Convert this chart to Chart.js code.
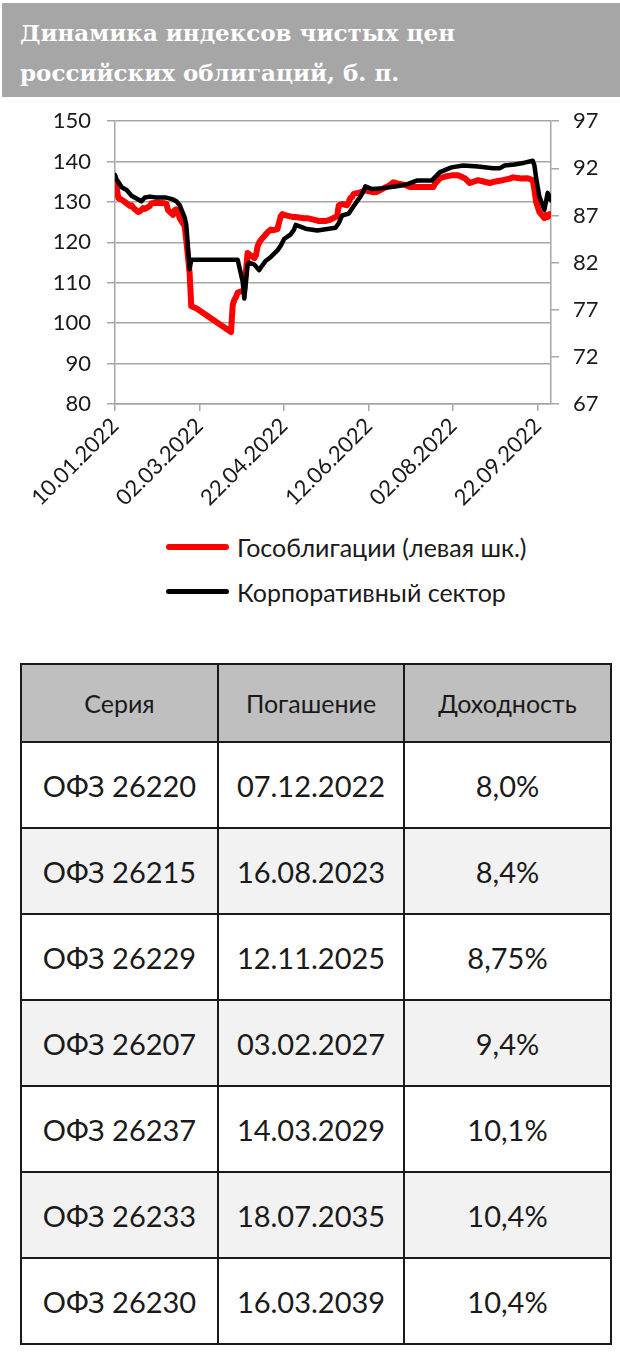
<!DOCTYPE html>
<html lang="ru">
<head>
<meta charset="utf-8">
<script src="https://cdn.jsdelivr.net/npm/chart.js@4.4.1/dist/chart.umd.min.js"></script>
<style>
  html, body { margin: 0; padding: 0; background: #fff; }
  body { width: 620px; height: 1368px; position: relative; overflow: hidden; font-family: Lato, 'Noto Sans', sans-serif; color: #1a1a1a; }
  .title { position: absolute; left: 2px; top: 3px; width: 618px; height: 94px; box-sizing: border-box; padding: 10px 0 0 18px;
           background: #a6a6a6; color: #fff; font: bold 23px/40px 'DejaVu Serif', serif; }
  .chart-box { position: absolute; left: 0; top: 92px; width: 620px; height: 426px; }
  .legend { position: absolute; left: 166px; top: 524px; font-size: 25px; }
  .legend div { display: flex; align-items: center; height: 45px; }
  .legend span.mark { display: inline-block; width: 63px; margin-right: 8px; border-radius: 3px; }
  table { position: absolute; left: 20px; top: 663px; width: 590px; border-collapse: collapse; table-layout: fixed; }
  td, th { border: 2px solid #1a1a1a; text-align: center; vertical-align: middle; padding: 0; }
  th { height: 76px; background: #bfbfbf; font-weight: normal; font-size: 25px; }
  td { height: 84px; font-size: 29px; }
  tr.alt td { background: #f2f2f2; }
</style>
</head>
<body>
<div class="title">Динамика индексов чистых цен<br>российских облигаций, б. п.</div>
<div class="chart-box"><canvas id="chart"></canvas></div>
<div class="legend">
  <div><span class="mark" style="height:6px;background:#ff0000"></span>Гособлигации (левая шк.)</div>
  <div><span class="mark" style="height:5px;background:#000"></span>Корпоративный сектор</div>
</div>
<table id="bonds">
  <colgroup><col style="width:197px"><col style="width:186px"><col style="width:207px"></colgroup>
  <thead><tr></tr></thead>
  <tbody></tbody>
</table>
<script>
// Гособлигации (левая шкала)
const govDates = [
  '10.01', '11.01', '12.01', '14.01', '17.01', '19.01', '20.01', '21.01', '24.01', '25.01',
  '27.01', '28.01', '31.01', '01.02', '04.02', '09.02', '10.02', '11.02', '14.02', '15.02',
  '16.02', '17.02', '18.02', '21.02', '22.02', '24.02', '25.02', '28.02', '21.03', '22.03',
  '23.03', '24.03', '25.03', '28.03', '29.03', '30.03', '31.03', '01.04', '04.04', '05.04',
  '06.04', '07.04', '08.04', '11.04', '12.04', '14.04', '15.04', '18.04', '19.04', '20.04',
  '21.04', '22.04', '25.04', '27.04', '29.04', '04.05', '06.05', '11.05', '13.05', '17.05',
  '19.05', '23.05', '24.05', '25.05', '27.05', '30.05', '31.05', '01.06', '02.06', '03.06',
  '07.06', '10.06', '15.06', '17.06', '21.06', '24.06', '27.06', '29.06', '04.07', '07.07',
  '13.07', '21.07', '22.07', '25.07', '28.07', '01.08', '05.08', '09.08', '12.08', '17.08',
  '19.08', '24.08', '26.08', '29.08', '01.09', '05.09', '07.09', '12.09', '16.09', '19.09',
  '20.09', '21.09', '22.09', '23.09', '26.09', '27.09', '28.09', '29.09', '30.09'
]
const govValues = [
  135.4, 133.5, 131.0, 130.6, 129.7, 129.0, 129.2, 128.6, 127.5, 127.7,
  128.5, 128.3, 129.0, 129.7, 129.8, 129.7, 129.5, 128.0, 126.8, 128.0,
  128.2, 127.5, 126.0, 124.0, 120.5, 112.5, 104.2, 103.7, 97.8, 104.5,
  105.8, 106.5, 107.6, 108.0, 108.3, 113.0, 117.4, 117.0, 116.1, 116.8,
  119.0, 120.0, 120.6, 122.0, 122.5, 123.2, 123.0, 123.3, 125.0, 126.5,
  127.0, 126.8, 126.5, 126.3, 126.3, 126.0, 126.0, 125.5, 125.3, 125.3,
  125.5, 126.3, 126.5, 129.2, 129.5, 129.2, 130.0, 131.0, 131.2, 132.0,
  132.4, 132.9, 132.4, 132.5, 133.4, 134.0, 134.9, 134.6, 134.2, 133.7,
  133.7, 133.7, 134.5, 135.9, 136.3, 136.6, 136.6, 135.9, 134.7, 135.4,
  135.2, 134.7, 134.9, 135.2, 135.4, 135.8, 136.1, 135.8, 135.9, 135.4,
  133.0, 130.0, 128.8, 127.5, 126.0, 126.8, 126.3, 127.0, 126.8
]

// Корпоративный сектор (правая шкала)
const corpDates = [
  '10.01', '11.01', '13.01', '14.01', '17.01', '20.01', '24.01', '26.01', '28.01', '31.01',
  '04.02', '10.02', '14.02', '16.02', '18.02', '21.02', '22.02', '24.02', '25.02', '25.03',
  '28.03', '29.03', '31.03', '01.04', '04.04', '07.04', '08.04', '11.04', '14.04', '18.04',
  '20.04', '22.04', '26.04', '28.04', '29.04', '05.05', '12.05', '19.05', '23.05', '25.05',
  '27.05', '31.05', '03.06', '07.06', '09.06', '10.06', '14.06', '21.06', '29.06', '05.07',
  '11.07', '20.07', '25.07', '01.08', '08.08', '17.08', '26.08', '30.08', '02.09', '08.09',
  '14.09', '19.09', '20.09', '21.09', '22.09', '23.09', '26.09', '27.09', '28.09', '29.09',
  '30.09'
]
const corpValues = [
  91.3, 90.8, 90.3, 90.0, 89.7, 89.1, 88.7, 88.5, 88.9, 89.0,
  88.9, 88.9, 88.7, 88.5, 88.1, 86.8, 86.0, 81.3, 82.3, 82.3,
  80.0, 78.2, 81.8, 82.0, 81.8, 81.2, 81.5, 82.2, 82.6, 83.3,
  83.8, 84.5, 85.0, 85.5, 86.0, 85.6, 85.4, 85.6, 85.7, 86.2,
  87.0, 87.2, 88.0, 89.0, 89.6, 90.1, 89.8, 89.9, 90.1, 90.3,
  90.7, 90.7, 91.6, 92.1, 92.3, 92.2, 92.0, 92.0, 92.3, 92.4,
  92.6, 92.8, 92.3, 91.0, 90.0, 89.0, 87.6, 88.5, 89.4, 89.0,
  88.6
]

// таблица
const tableHead = ['Серия', 'Погашение', 'Доходность']
const bondSeries = ['ОФЗ 26220', 'ОФЗ 26215', 'ОФЗ 26229', 'ОФЗ 26207', 'ОФЗ 26237', 'ОФЗ 26233', 'ОФЗ 26230']
const bondMaturity = ['07.12.2022', '16.08.2023', '12.11.2025', '03.02.2027', '14.03.2029', '18.07.2035', '16.03.2039']
const bondYield = ['8,0%', '8,4%', '8,75%', '9,4%', '10,1%', '10,4%', '10,4%']

const START = Date.UTC(2022, 0, 10)
const DAY = 86400000
const pad = (n) => String(n).padStart(2, '0')
const toDay = (s) => {
  const [d, m] = s.split('.').map(Number)
  return Math.round((Date.UTC(2022, m - 1, d) - START) / DAY)
}
const fmtDay = (v) => {
  const dt = new Date(START + v * DAY)
  return `${pad(dt.getUTCDate())}.${pad(dt.getUTCMonth() + 1)}.${dt.getUTCFullYear()}`
}
const points = (dates, values) => dates.map((d, i) => ({ x: toDay(d), y: values[i] }))

const headRow = document.querySelector('#bonds thead tr')
tableHead.forEach((h) => {
  const th = document.createElement('th')
  th.textContent = h
  headRow.appendChild(th)
})
const body = document.querySelector('#bonds tbody')
bondSeries.forEach((s, i) => {
  const tr = document.createElement('tr')
  if (i % 2 === 1) tr.className = 'alt'
  ;[s, bondMaturity[i], bondYield[i]].forEach((t) => {
    const td = document.createElement('td')
    td.textContent = t
    tr.appendChild(td)
  })
  body.appendChild(tr)
})

const axisGray = '#a6a6a6'
const tickFont = { family: "Lato, 'Noto Sans', sans-serif", size: 22 }

new Chart(document.getElementById('chart'), {
  type: 'line',
  data: {
    datasets: [
      {
        label: 'Корпоративный сектор',
        data: points(corpDates, corpValues),
        yAxisID: 'y1',
        borderColor: '#000000',
        borderWidth: 4.5,
        order: 0
      },
      {
        label: 'Гособлигации (левая шк.)',
        data: points(govDates, govValues),
        yAxisID: 'y',
        borderColor: '#ff0000',
        borderWidth: 6,
        order: 1
      }
    ]
  },
  options: {
    responsive: true,
    maintainAspectRatio: false,
    animation: false,
    layout: { padding: { top: 23, left: 0, right: 0, bottom: 0 } },
    elements: {
      point: { radius: 0 },
      line: { tension: 0, borderJoinStyle: 'round', borderCapStyle: 'round' }
    },
    plugins: {
      legend: { display: false },
      tooltip: { enabled: false }
    },
    scales: {
      x: {
        type: 'linear',
        min: 0,
        max: 263,
        afterFit: (scale) => { scale.height = 114 },
        grid: { drawOnChartArea: false, color: axisGray, lineWidth: 1.5, tickLength: 7 },
        border: { color: axisGray, width: 1.5 },
        ticks: {
          stepSize: 51,
          includeBounds: false,
          autoSkip: false,
          minRotation: 45,
          maxRotation: 45,
          padding: 2,
          color: '#1a1a1a',
          font: tickFont,
          callback: (value) => fmtDay(value)
        }
      },
      y: {
        position: 'left',
        min: 80,
        max: 150,
        afterFit: (scale) => { scale.width = 115 },
        grid: { color: axisGray, lineWidth: 1.5, tickLength: 8 },
        border: { color: axisGray, width: 1.5 },
        ticks: { stepSize: 10, padding: 16, color: '#1a1a1a', font: tickFont }
      },
      y1: {
        position: 'right',
        min: 67,
        max: 97,
        afterFit: (scale) => { scale.width = 69 },
        grid: { drawOnChartArea: false, color: axisGray, lineWidth: 1.5, tickLength: 8 },
        border: { color: axisGray, width: 1.5 },
        ticks: { stepSize: 5, padding: 14, color: '#1a1a1a', font: tickFont }
      }
    }
  }
})
</script>
</body>
</html>
